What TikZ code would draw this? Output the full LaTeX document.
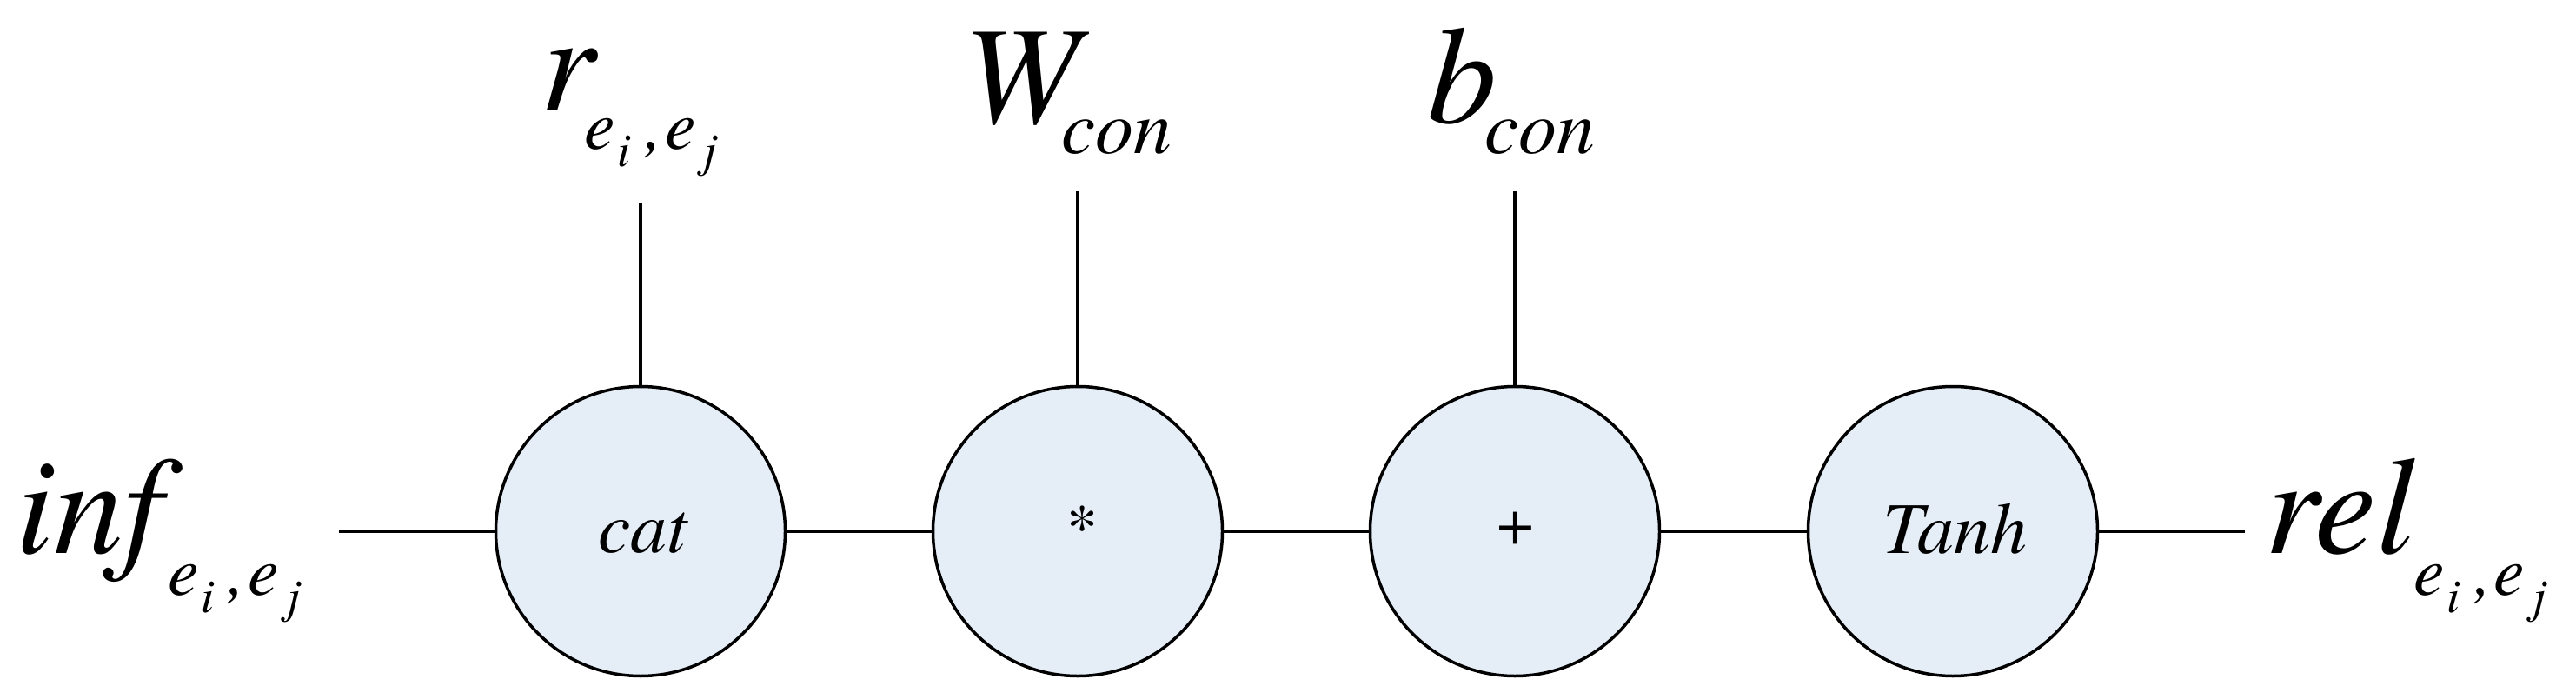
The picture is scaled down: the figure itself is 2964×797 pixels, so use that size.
\documentclass[tikz,border=0pt]{standalone}
\usepackage{fontspec}
\setmainfont{texgyretermes}[Extension=.otf, UprightFont=*-regular, ItalicFont=*-italic, BoldFont=*-bold, BoldItalicFont=*-bolditalic]
\definecolor{opfill}{RGB}{229,237,247}
\newcommand{\subij}{{\fontsize{80}{80}\selectfont\itshape e\kern3pt\raisebox{-20pt}{\fontsize{55}{55}\selectfont i}\hspace{16pt},\kern3pt e\kern9pt\raisebox{-20pt}{\fontsize{55}{55}\selectfont j}}}
\newcommand{\bigit}{\fontsize{160}{160}\selectfont\itshape}
\newcommand{\subcon}{{\fontsize{88}{88}\selectfont\itshape con}}
\tikzset{
  opnode/.style={circle, draw=black, fill=opfill, line width=3.5pt, minimum size=333pt, inner sep=0pt},
  optext/.style={anchor=base, inner sep=0pt, font=\fontsize{84}{84}\selectfont\itshape},
  lbl/.style={anchor=base west, inner sep=0pt},
  wire/.style={line width=3.5pt}
}
\begin{document}
\begin{tikzpicture}[x=1pt,y=-1pt]
\useasboundingbox (0,0) rectangle (2964,797);
% operation circles
\node[opnode] (c1) at (737,611) {};
\node[opnode] (c2) at (1240,611) {};
\node[opnode] (c3) at (1743,611) {};
\node[opnode] (c4) at (2247,611) {};
% texts inside
\node[optext] (t1) at (740,635) {cat};
\node[optext, font=\fontsize{72}{72}\selectfont] (t2) at (1245,630) {*};
\node[optext, font=\fontsize{76}{76}\selectfont] (t3) at (1744,626) {+};
\node[optext] (t4) at (2249,636) {Tanh};
% free ends
\coordinate (inL) at (390,611);
\coordinate (outR) at (2583,611);
\coordinate (rtop) at (737,234);
\coordinate (wtop) at (1240,220);
\coordinate (btop) at (1743,220);
% connectors
\draw[wire] (inL) -- (c1.west);
\draw[wire] (c1.east) -- (c2.west);
\draw[wire] (c2.east) -- (c3.west);
\draw[wire] (c3.east) -- (c4.west);
\draw[wire] (c4.east) -- (outR);
\draw[wire] (rtop) -- (c1.north);
\draw[wire] (wtop) -- (c2.north);
\draw[wire] (btop) -- (c3.north);
% labels
\node[lbl] (linf) at (18,636) {\bigit inf\kern6pt\raisebox{-48pt}{\subij}};
\node[lbl] (lrel) at (2606,636) {\bigit rel\kern-2pt\raisebox{-48pt}{\subij}};
\node[lbl] (lr) at (622,127) {\bigit r\kern-12pt\raisebox{-45pt}{\subij}};
\node[lbl] (lw) at (1108,142) {\bigit W\kern-20pt\raisebox{-35pt}{\subcon}};
\node[lbl] (lb) at (1642,142) {\bigit b\kern-14pt\raisebox{-35pt}{\subcon}};
\end{tikzpicture}
\end{document}
